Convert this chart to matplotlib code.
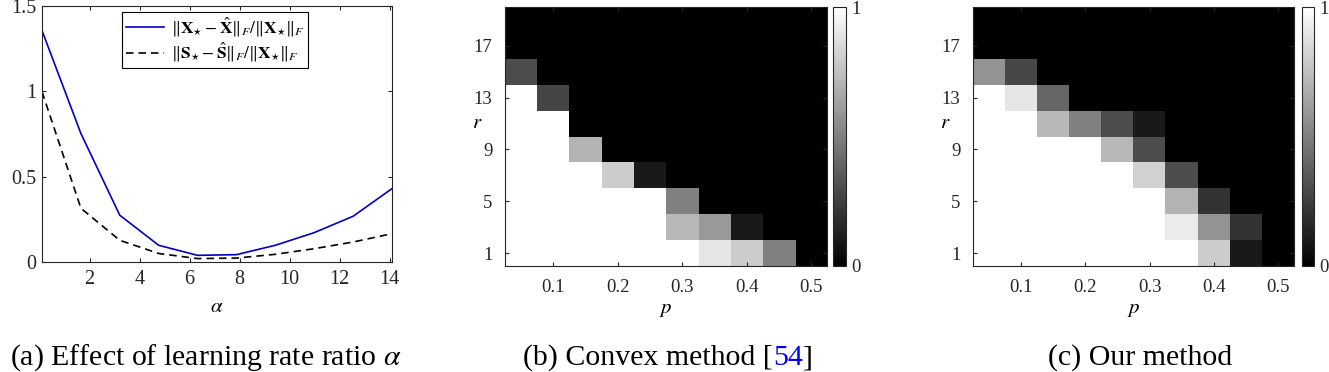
import numpy as np
import matplotlib
matplotlib.use("Agg")
import matplotlib.pyplot as plt

# ---------------- data ----------------
alpha = [0.1, 1.656, 3.211, 4.767, 6.322, 7.878, 9.433, 10.989, 12.544, 14.1]
err_X = [1.356, 0.753, 0.274, 0.098, 0.039, 0.043, 0.098, 0.172, 0.268, 0.430]
err_S = [0.998, 0.315, 0.127, 0.050, 0.020, 0.023, 0.045, 0.078, 0.117, 0.166]

p_vals = [0.05, 0.10, 0.15, 0.20, 0.25, 0.30, 0.35, 0.40, 0.45, 0.50]
r_vals = [1, 3, 5, 7, 9, 11, 13, 15, 17, 19]

# rows: r = 1,3,...,19 ; columns: p = 0.05 ... 0.5
convex = [
    [1, 1, 1, 1, 1, 1, 0.90, 0.80, 0.50, 0],
    [1, 1, 1, 1, 1, 0.72, 0.60, 0.10, 0, 0],
    [1, 1, 1, 1, 1, 0.50, 0, 0, 0, 0],
    [1, 1, 1, 0.80, 0.10, 0, 0, 0, 0, 0],
    [1, 1, 0.70, 0, 0, 0, 0, 0, 0, 0],
    [1, 1, 0, 0, 0, 0, 0, 0, 0, 0],
    [1, 0.27, 0, 0, 0, 0, 0, 0, 0, 0],
    [0.30, 0, 0, 0, 0, 0, 0, 0, 0, 0],
    [0, 0, 0, 0, 0, 0, 0, 0, 0, 0],
    [0, 0, 0, 0, 0, 0, 0, 0, 0, 0],
]
ours = [
    [1, 1, 1, 1, 1, 1, 1, 0.80, 0.10, 0],
    [1, 1, 1, 1, 1, 1, 0.92, 0.58, 0.20, 0],
    [1, 1, 1, 1, 1, 1, 0.70, 0.20, 0, 0],
    [1, 1, 1, 1, 1, 0.82, 0.30, 0, 0, 0],
    [1, 1, 1, 1, 0.72, 0.30, 0, 0, 0, 0],
    [1, 1, 0.72, 0.50, 0.30, 0.10, 0, 0, 0, 0],
    [1, 0.90, 0.40, 0, 0, 0, 0, 0, 0, 0],
    [0.58, 0.28, 0, 0, 0, 0, 0, 0, 0, 0],
    [0, 0, 0, 0, 0, 0, 0, 0, 0, 0],
    [0, 0, 0, 0, 0, 0, 0, 0, 0, 0],
]

xticks_a = [2, 4, 6, 8, 10, 12, 14]
yticks_a = [0, 0.5, 1, 1.5]
yticklabels_a = ["0", "0.5", "1", "1.5"]
xticks_h = [0.1, 0.2, 0.3, 0.4, 0.5]
yticks_h = [1, 5, 9, 13, 17]

# ---------------- style ----------------
plt.rcParams["font.family"] = ["Liberation Serif", "DejaVu Serif"]
plt.rcParams["mathtext.fontset"] = "stix"
plt.rcParams["xtick.direction"] = "in"
plt.rcParams["ytick.direction"] = "in"
plt.rcParams["xtick.top"] = True
plt.rcParams["ytick.right"] = True
plt.rcParams["axes.edgecolor"] = "0.15"
plt.rcParams["xtick.color"] = "0.15"
plt.rcParams["ytick.color"] = "0.15"
plt.rcParams["xtick.labelcolor"] = "0.15"
plt.rcParams["ytick.labelcolor"] = "0.15"
plt.rcParams["axes.linewidth"] = 0.8
plt.rcParams["xtick.major.size"] = 3
plt.rcParams["ytick.major.size"] = 3

W, H = 1329, 372
fig = plt.figure(figsize=(W / 100, H / 100), dpi=100)

def box(l, t, r, b):
    return [l / W, (H - b) / H, (r - l) / W, (b - t) / H]

TICK_FS = 13.5

# ---------------- panel (a) ----------------
axa = fig.add_axes(box(42, 6, 392, 262))
axa.plot(alpha, err_X, color="#0000c8", lw=1.2,
         label=r"$\|\mathbf{X}_{\star}-\hat{\mathbf{X}}\|_F/\|\mathbf{X}_{\star}\|_F$")
axa.plot(alpha, err_S, color="black", lw=1.2, ls=(0, (4.5, 3)),
         label=r"$\|\mathbf{S}_{\star}-\hat{\mathbf{S}}\|_F/\|\mathbf{X}_{\star}\|_F$")
axa.set_xlim(0.1, 14.1)
axa.set_ylim(0, 1.5)
axa.set_xticks(xticks_a)
axa.set_yticks(yticks_a)
axa.set_yticklabels(yticklabels_a)
axa.tick_params(axis="x", labelsize=14.5, pad=6)
axa.tick_params(axis="y", labelsize=14.5, pad=4)
axa.set_xlabel(r"$\alpha$", fontsize=15, labelpad=6)
leg = axa.legend(loc="upper left", bbox_to_anchor=(0.229, 0.977), borderaxespad=0,
                 fontsize=12.5, fancybox=False, edgecolor="black", framealpha=1,
                 handlelength=2.2, handletextpad=0.4, borderpad=0.2, labelspacing=0.15)
leg.get_frame().set_linewidth(0.8)

# ---------------- heatmaps ----------------
def heat(ax_box, cb_box, data):
    ax = fig.add_axes(box(*ax_box))
    dx = (p_vals[1] - p_vals[0]) / 2
    dy = (r_vals[1] - r_vals[0]) / 2
    im = ax.imshow(np.array(data), cmap="gray", vmin=0, vmax=1, origin="lower",
                   aspect="auto", interpolation="nearest",
                   extent=[p_vals[0] - dx, p_vals[-1] + dx, r_vals[0] - dy, r_vals[-1] + dy])
    ax.set_xticks(xticks_h)
    ax.set_xticklabels([f"{v:.1f}" for v in xticks_h])
    ax.set_yticks(yticks_h)
    ax.tick_params(axis="x", labelsize=TICK_FS, pad=9)
    ax.tick_params(axis="y", labelsize=TICK_FS, pad=9)
    ax.set_xlabel(r"$p$", fontsize=15, labelpad=3)
    ax.set_ylabel(r"$r$", fontsize=15, rotation=0, va="center", ha="center")
    ax.yaxis.set_label_coords(-0.085, 0.55)
    cax = fig.add_axes(box(*cb_box))
    cb = fig.colorbar(im, cax=cax, ticks=[0, 1])
    cb.ax.set_yticklabels(["0", "1"])
    cb.ax.tick_params(length=0, labelsize=TICK_FS, pad=4, right=True, left=False)
    cb.outline.set_linewidth(0.8)
    cb.outline.set_edgecolor("0.15")
    return ax

axb = heat((505, 7, 827, 266), (833, 7, 846, 266), convex)
axc = heat((973, 7, 1294, 266), (1302, 7, 1314, 266), ours)

# ---------------- captions ----------------
CAP_FS = 21.5
CAP_Y = (H - 365) / H
fig.text(206 / W, CAP_Y, r"(a) Effect of learning rate ratio $\alpha$",
         ha="center", va="baseline", fontsize=CAP_FS)
fig.text(1140 / W, CAP_Y, "(c) Our method", ha="center", va="baseline", fontsize=CAP_FS)

t1 = fig.text(0, CAP_Y, "(b) Convex method [", ha="left", va="baseline", fontsize=CAP_FS)
t2 = fig.text(0, CAP_Y, "54", ha="left", va="baseline", fontsize=CAP_FS, color="#0000ff")
t3 = fig.text(0, CAP_Y, "]", ha="left", va="baseline", fontsize=CAP_FS)
fig.canvas.draw()
r = fig.canvas.get_renderer()
w1 = t1.get_window_extent(r).width
w2 = t2.get_window_extent(r).width
w3 = t3.get_window_extent(r).width
total = w1 + w2 + w3
x0 = 668 - total / 2
t1.set_x(x0 / W)
t2.set_x((x0 + w1) / W)
t3.set_x((x0 + w1 + w2) / W)

fig.savefig("out.png", dpi=100)
